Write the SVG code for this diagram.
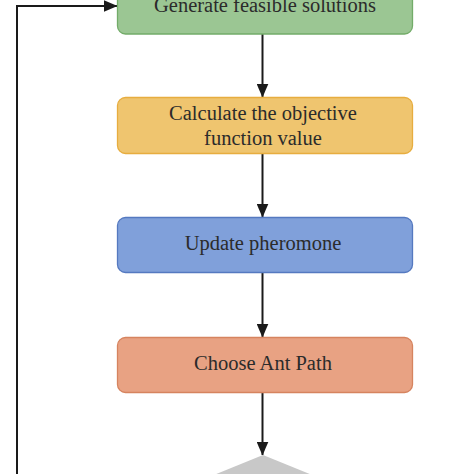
<svg xmlns="http://www.w3.org/2000/svg" width="474" height="474" viewBox="0 0 474 474">
<defs>
<marker id="arr" markerWidth="14" markerHeight="12" refX="13.5" refY="6" orient="auto" markerUnits="userSpaceOnUse" viewBox="0 0 14 12">
<path d="M0,0 L14,6 L0,12 Z" fill="#1a1a1a"/>
</marker>
</defs>
<style>
.box{stroke-width:1.3}
.lbl{font-family:"Liberation Serif","DejaVu Serif",serif;font-size:20.5px;fill:#2b2b2b;text-anchor:middle}
.con{stroke:#1a1a1a;stroke-width:2;fill:none}
</style>
<rect width="474" height="474" fill="#ffffff"/>
<g id="connectors">
<line class="con" x1="262.5" y1="34" x2="262.5" y2="97" marker-end="url(#arr)"/>
<line class="con" x1="262.5" y1="154" x2="262.5" y2="217" marker-end="url(#arr)"/>
<line class="con" x1="262.5" y1="273" x2="262.5" y2="337" marker-end="url(#arr)"/>
<line class="con" x1="262.5" y1="393" x2="262.5" y2="455" marker-end="url(#arr)"/>
<polyline class="con" points="17,474 17,6 117,6" marker-end="url(#arr)"/>
</g>
<g id="generate">
<rect class="box" x="117.5" y="-22" width="295" height="56" rx="8" fill="#9bc693" stroke="#73ac69"/>
<text class="lbl" x="265" y="12">Generate feasible solutions</text>
</g>
<g id="calculate">
<rect class="box" x="117.5" y="97.5" width="295" height="56" rx="8" fill="#efc56f" stroke="#e7ad3f"/>
<text class="lbl" x="263" y="120">Calculate the objective</text>
<text class="lbl" x="263" y="145">function value</text>
</g>
<g id="update">
<rect class="box" x="117.5" y="217.5" width="295" height="55" rx="8" fill="#80a0da" stroke="#5579c0"/>
<text class="lbl" x="263" y="250">Update pheromone</text>
</g>
<g id="choose">
<rect class="box" x="117.5" y="337.5" width="295" height="55" rx="8" fill="#e8a283" stroke="#d6845f"/>
<text class="lbl" x="263" y="370">Choose Ant Path</text>
</g>
<g id="decision">
<polygon points="263,455 322,479 263,503 204,479" fill="#c8c8c8"/>
</g>
</svg>
